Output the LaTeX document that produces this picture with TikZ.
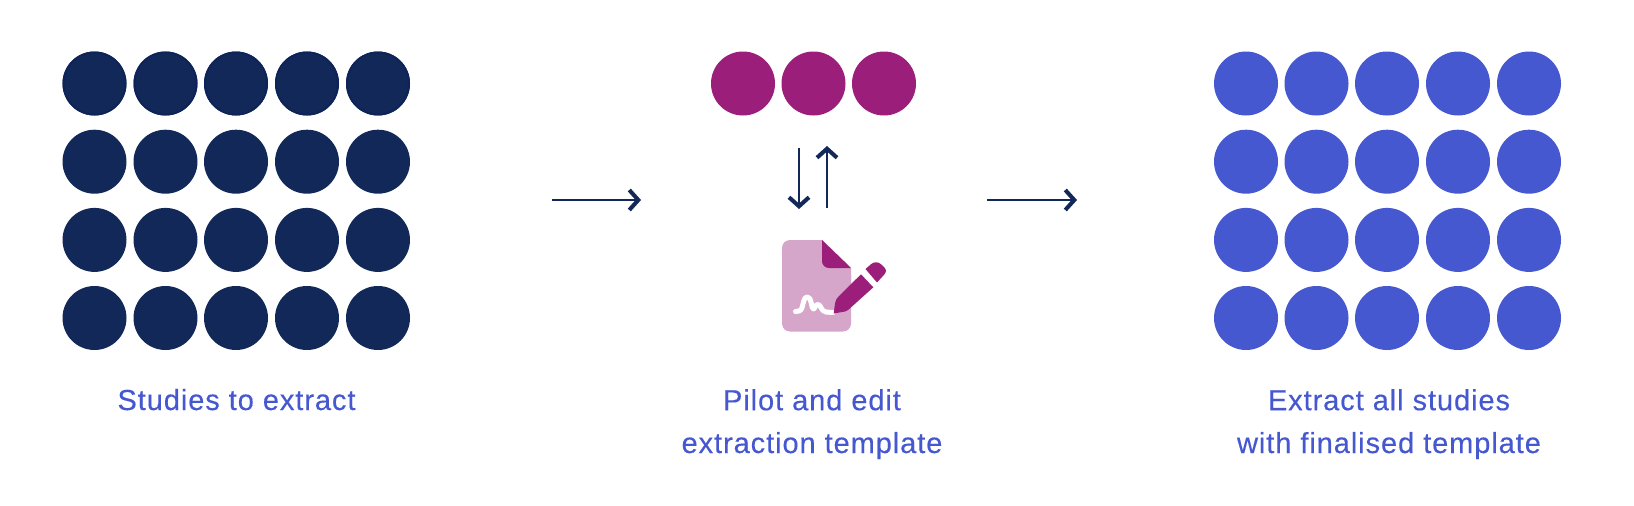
\documentclass[tikz,border=0pt]{standalone}
\usepackage{xcolor}
\usepackage{fontspec}
\setmainfont[LetterSpace=3.2,FakeBold=0.25]{Liberation Sans}
\usetikzlibrary{arrows.meta,calc,positioning}
\definecolor{navy}{HTML}{122858}
\definecolor{navyring}{HTML}{0E2358}
\definecolor{plum}{HTML}{9A1E7A}
\definecolor{plumlight}{HTML}{D5A6C9}
\definecolor{indigo}{HTML}{4558D0}

\begin{document}
\begin{tikzpicture}[
  x=1pt,y=-1pt,
  dot/.style={circle,inner sep=0pt,minimum size=64pt},
  caption/.style={align=center,text=indigo,font=\fontsize{29}{42.8}\selectfont,inner sep=0pt,anchor=base},
  arrow/.style={-{Straight Barb[length=9pt,width=20pt,line width=0pt 1.5]},line width=2.7pt,navy}
]
  \useasboundingbox (0,0) rectangle (1634,506);

  % study grids
  \foreach \row/\y in {1/83.5,2/161.7,3/239.9,4/318} {
    \foreach \col/\x in {1/94.5,2/165.5,3/236,4/307,5/378}
      \node[dot,fill=navy] (study-\row-\col) at (\x,\y) {};
    \foreach \col/\x in {1/1246,2/1316.5,3/1387,4/1458,5/1529}
      \node[dot,fill=indigo] (done-\row-\col) at (\x,\y) {};
  }
  \foreach \col in {1,...,5}
    \draw[navyring,line width=2pt] (study-1-\col) circle (31pt);
  \foreach \col/\x in {1/743,2/813.5,3/884}
    \node[dot,fill=plum] (pilot-\col) at (\x,83.5) {};

  % template icon
  \fill[plumlight,rounded corners=8pt] (782,240) -- (822,240) -- (851,268) -- (851,331.5) -- (782,331.5) -- cycle;
  \fill[plumlight] (800,240) -- (822,240) -- (851,268) -- (851,290) -- (800,290) -- cycle;
  \fill[plum] (822,240) -- (851,268) -- (829,268) .. controls (825,268) and (822,265) .. (822,261) -- cycle;
  \draw[white,line width=5pt,line cap=round,line join=round] (795.5,311.5) -- (799,311) .. controls (804,310) and (802,297) .. (807.5,297) .. controls (812,297) and (811,309) .. (813.5,309) .. controls (815,309) and (815,304.5) .. (818,304.5) .. controls (821,304.5) and (821,311.5) .. (826,312) -- (833,312.5);
  \fill[plum] (833.7,313.5) -- (835,303.5) .. controls (835.5,300.5) and (836.5,298.5) .. (838.3,296.7) -- (861,274.3) -- (873.3,287.3) -- (850,308.3) .. controls (848.5,309.8) and (847,311) .. (845,311.5) -- cycle;
  \fill[plum] (865.5,269) -- (871.5,263.8) .. controls (874,261.8) and (878,261.8) .. (880.5,263.8) -- (884,267) .. controls (886.5,269.5) and (886.5,272) .. (884.3,274.5) -- (877,282.5) -- cycle;

  % connectors
  \coordinate (leftstart) at (552,200);
  \coordinate (leftend) at (641,200);
  \coordinate (rightstart) at (987,200);
  \coordinate (rightend) at (1077,200);
  \coordinate (downstart) at (799,148);
  \coordinate (downend) at (799,209);
  \coordinate (upstart) at (827,208);
  \coordinate (upend) at (827,146);
  \draw[arrow] (leftstart) -- (leftend);
  \draw[arrow] (rightstart) -- (rightend);
  \draw[arrow] (downstart) -- (downend);
  \draw[arrow] (upstart) -- (upend);

  \node[caption] (studies) at (236.5,410) {Studies to extract};
  \node[caption,anchor=north] (pilot) at (812,389) {Pilot and edit\\extraction template};
  \node[caption,anchor=north] (extract) at (1389,389) {Extract all studies\\with finalised template};
\end{tikzpicture}
\end{document}
